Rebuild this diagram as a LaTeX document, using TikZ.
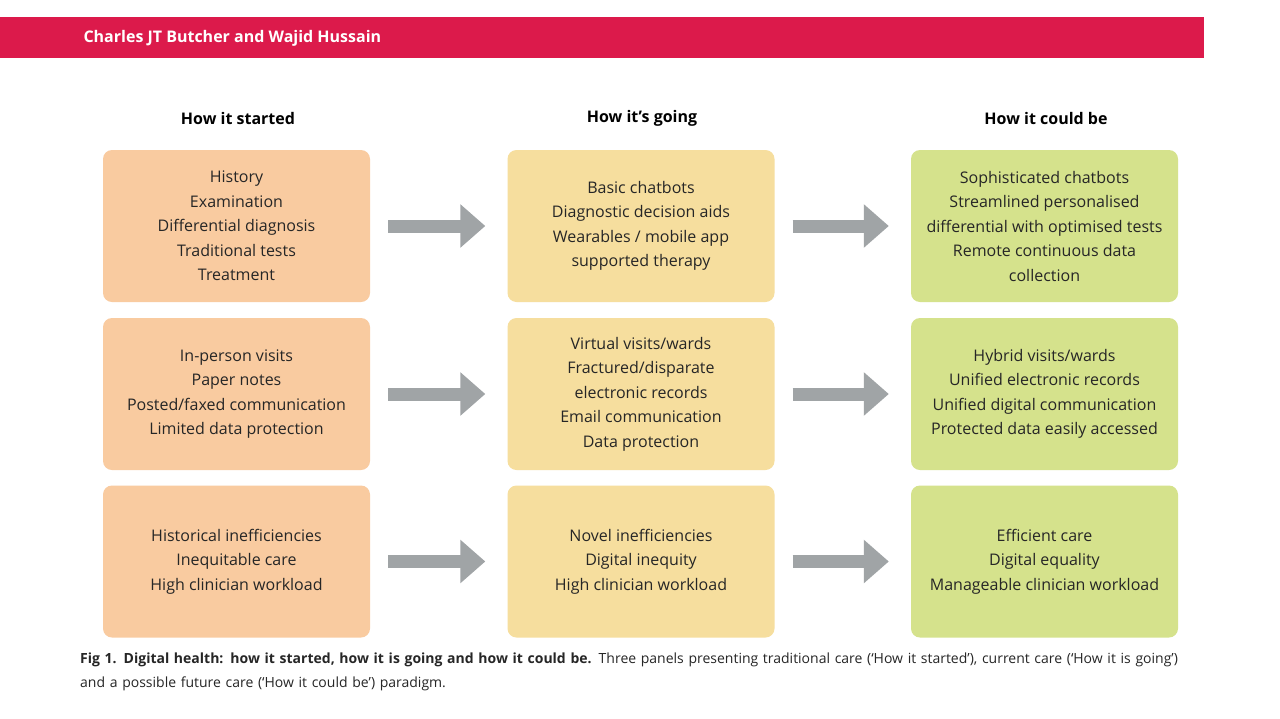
\documentclass[tikz,border=0pt]{standalone}
\usepackage{fontspec}
\setmainfont{Open Sans}
\usetikzlibrary{arrows.meta}
\definecolor{hred}{HTML}{DC1A4B}
\definecolor{corg}{HTML}{F9CBA0}
\definecolor{cyel}{HTML}{F6DE9E}
\definecolor{cgrn}{HTML}{D5E28C}
\definecolor{agray}{HTML}{A0A4A6}
\begin{document}
\begin{tikzpicture}[x=1pt,y=-1pt,
 box/.style={rounded corners=9pt,minimum width=267pt,minimum height=152pt,align=center,font=\fontsize{16}{24.5}\selectfont,text=black!85,inner sep=0pt},
 hdr/.style={font=\fontsize{16}{19}\selectfont\bfseries},
 conn/.style={draw=agray,line width=13pt,-{Triangle[length=25pt,width=42pt]},shorten <=18pt,shorten >=22pt}]
\useasboundingbox (0,0) rectangle (1280,718);
\fill[white] (0,0) rectangle (1280,718);
\fill[hred] (0,17) rectangle (1204,58);
\node[anchor=west,text=white,font=\fontsize{16}{19}\selectfont\bfseries] (title) at (80,38) {Charles JT Butcher and Wajid Hussain};
\node[hdr] (h1) at (238,118) {How it started};
\node[hdr] (h2) at (642,118) {How it’s going};
\node[hdr] (h3) at (1046,118) {How it could be};
\node[box,fill=corg] (a1) at (236.5,226) {History\\Examination\\Differential diagnosis\\Traditional tests\\Treatment};
\node[box,fill=cyel] (b1) at (641,226) {Basic chatbots\\Diagnostic decision aids\\Wearables / mobile app\\supported therapy};
\node[box,fill=cgrn] (c1) at (1044.5,226) {Sophisticated chatbots\\Streamlined personalised\\differential with optimised tests\\Remote continuous data\\collection};
\node[box,fill=corg] (a2) at (236.5,394) {In-person visits\\Paper notes\\Posted/faxed communication\\Limited data protection};
\node[box,fill=cyel] (b2) at (641,394) {Virtual visits/wards\\Fractured/disparate\\electronic records\\Email communication\\Data protection};
\node[box,fill=cgrn] (c2) at (1044.5,394) {Hybrid visits/wards\\Unified electronic records\\Unified digital communication\\Protected data easily accessed};
\node[box,fill=corg] (a3) at (236.5,561.5) {Historical inefficiencies\\Inequitable care\\High clinician workload};
\node[box,fill=cyel] (b3) at (641,561.5) {Novel inefficiencies\\Digital inequity\\High clinician workload};
\node[box,fill=cgrn] (c3) at (1044.5,561.5) {Efficient care\\Digital equality\\Manageable clinician workload};
\foreach \r in {1,2,3}{
 \draw[conn] (a\r) -- (b\r);
 \draw[conn] (b\r) -- (c\r);
}
\node[anchor=north west,text width=1120pt,align=left,font=\fontsize{14}{24}\selectfont,text=black!85,inner sep=0pt] (cap) at (80,653)
 {\textbf{Fig 1. Digital health: how it started, how it is going and how it could be.} Three panels presenting traditional care (‘How it started’), current care (‘How it is going’) and a possible future care (‘How it could be’) paradigm.};
\end{tikzpicture}
\end{document}
